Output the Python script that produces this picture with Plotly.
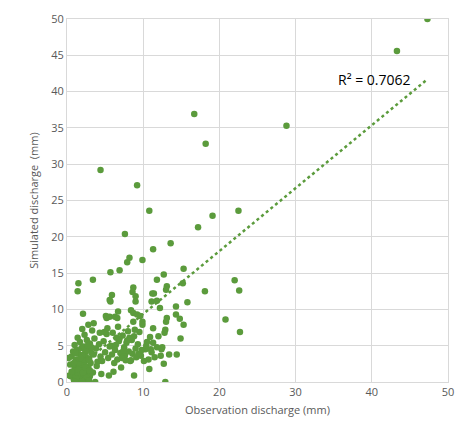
import plotly.graph_objects as go

obs = [47.3, 43.3, 28.8, 16.7, 18.2, 4.4, 9.2, 10.8, 22.5, 19.1, 17.2, 7.6, 13.6, 11.3,
       8.2, 7.9, 9.9, 15.3, 5.7, 6.9, 12.7, 3.4, 1.5, 1.4, 11.8, 22.0, 22.6, 18.1, 15.2,
       13.1, 13.0, 8.7, 8.6, 9.0, 11.4, 11.2, 5.9, 5.6, 5.7, 15.8, 11.1, 11.8, 9.0, 14.3,
       12.2, 8.4, 6.7, 2.1, 8.7, 9.2, 9.6, 14.3, 14.8, 13.1, 13.0, 20.8, 5.1, 5.2, 5.6,
       6.3, 6.6, 8.7, 9.9, 15.3, 11.3, 12.9, 12.8, 22.7, 14.9, 14.4, 13.4, 12.7, 12.9,
       10.8, 8.8, 3.7, 12.5, 12.4,
       # dense cluster
       0.2, 0.4, 0.5, 0.6, 0.7, 0.8, 0.9, 1.0, 1.0, 1.1, 1.2, 1.2, 1.3, 1.3, 1.4, 1.4,
       1.5, 1.5, 1.6, 1.6, 1.7, 1.7, 1.8, 1.8, 1.9, 1.9, 2.0, 2.0, 2.1, 2.1, 2.2, 2.2,
       2.3, 2.3, 2.4, 2.4, 2.5, 2.5, 2.6, 2.6, 2.7, 2.7, 2.8, 2.8, 2.9, 3.0, 3.0, 3.1,
       3.2, 3.3, 3.4, 3.5, 3.6, 3.8, 4.0, 4.2, 4.4, 1.0, 1.3, 1.6, 1.9, 2.2, 2.5, 2.8,
       1.1, 1.4, 1.7, 2.0, 2.3, 2.6, 2.9, 3.2, 0.9, 1.2, 1.5, 1.8, 2.1, 2.4, 2.7, 3.0,
       0.3, 0.6, 1.0, 3.5, 3.9, 4.3, 1.1, 2.0, 2.9,
       # mid cloud
       4.6, 4.8, 5.0, 5.2, 5.4, 5.5, 5.8, 6.0, 6.1, 6.3, 6.5, 6.6, 6.8, 7.0, 7.1, 7.3,
       7.5, 7.6, 7.8, 8.0, 8.1, 8.3, 8.5, 8.6, 8.8, 9.0, 9.1, 9.3, 9.5, 9.7, 9.9, 10.1,
       10.3, 10.5, 10.7, 10.9, 11.1, 11.3, 11.5, 11.8, 12.0, 12.3, 5.3, 5.9, 6.4, 6.9,
       7.4, 7.9, 8.4, 8.9, 9.4, 4.9, 5.6, 6.2, 7.2, 8.2, 9.8, 10.4, 11.0, 4.5, 6.7, 7.7]
sim = [50.0, 45.6, 35.3, 36.9, 32.8, 29.2, 27.1, 23.6, 23.6, 22.9, 21.3, 20.4, 19.1, 18.3,
       17.1, 16.5, 16.8, 15.6, 15.1, 15.4, 14.8, 14.1, 13.6, 12.5, 14.1, 14.0, 12.6, 12.5,
       13.6, 13.2, 12.7, 13.0, 12.4, 11.8, 12.2, 12.2, 12.0, 11.3, 11.1, 11.0, 11.1, 11.2,
       11.1, 10.4, 10.2, 9.9, 9.7, 9.4, 9.5, 9.3, 9.1, 9.3, 8.7, 8.8, 8.3, 8.6, 9.1, 8.8,
       9.0, 9.0, 8.8, 8.3, 8.3, 7.9, 7.4, 7.2, 6.8, 6.9, 6.0, 3.8, 3.8, 2.5, 0.0,
       1.8, 0.9, 0.0, 4.8, 4.5,
       # dense cluster
       3.3, 2.4, 0.8, 3.5, 1.2, 4.2, 0.3, 2.0, 5.1, 0.5, 3.1, 1.6, 4.4, 0.2, 2.7, 6.1,
       1.0, 3.9, 0.4, 2.2, 5.5, 1.4, 3.0, 0.6, 4.7, 2.5, 7.3, 0.9, 3.6, 1.8, 4.9, 0.3,
       2.9, 6.5, 1.1, 4.1, 0.7, 3.4, 5.8, 2.0, 0.4, 4.5, 7.9, 1.5, 3.2, 0.8, 5.3, 2.6,
       4.0, 7.1, 1.3, 3.8, 6.0, 4.6, 2.8, 5.2, 3.5, 1.5, 2.9, 2.4, 3.7, 1.1, 4.3, 2.1,
       4.0, 0.9, 1.9, 3.6, 2.3, 0.6, 3.0, 4.8, 2.6, 0.5, 1.7, 3.3, 1.3, 2.0, 5.0, 1.6,
       0.9, 1.4, 0.1, 8.1, 2.2, 6.8, 0.0, 0.1, 0.2,
       # mid cloud
       2.9, 5.6, 4.1, 6.6, 3.3, 0.9, 5.0, 6.8, 1.4, 4.4, 6.1, 3.1, 5.6, 4.0, 2.0, 6.4,
       4.8, 3.7, 5.4, 7.0, 4.2, 2.9, 5.8, 3.9, 6.3, 4.6, 3.4, 5.2, 6.9, 3.6, 7.9, 2.9,
       4.5, 5.5, 3.1, 6.2, 4.1, 5.4, 3.4, 4.8, 6.3, 3.6, 7.4, 3.8, 5.1, 6.0, 4.3, 5.7,
       3.0, 7.2, 3.9, 6.9, 4.9, 2.6, 3.3, 6.1, 4.4, 5.0, 4.5, 1.1, 7.6, 3.0]

# linear trend line end points and the R² label
trend_x = [0, 47.3]
trend_y = [0.7, 41.7]
r2_text = 'R² = 0.7062'

green = '#5b9b3c'

fig = go.Figure()
fig.add_trace(go.Scatter(x=trend_x, y=trend_y, mode='lines',
                         line=dict(color=green, width=2.5, dash='dot'), hoverinfo='skip'))
fig.add_trace(go.Scatter(x=obs, y=sim, mode='markers',
                         marker=dict(color=green, size=6.5)))

fig.add_annotation(x=40.3, y=41.6, text=r2_text, showarrow=False,
                   font=dict(size=14, color='#000000'))

axis_common = dict(range=[0, 50], showgrid=True, gridcolor='#d9d9d9', gridwidth=1,
                   zeroline=False, showline=True, linecolor='#d9d9d9', mirror=True,
                   ticks='', automargin=False, tickfont=dict(size=11, color='#595959'),
                   title_font=dict(size=11, color='#595959'))
fig.update_xaxes(axis_common, dtick=10, title_text='Observation discharge (mm)',
                 title_standoff=8)
fig.update_yaxes(axis_common, dtick=5, title_text='Simulated discharge  (mm)',
                 title_standoff=10)

# page body adds an 8px offset, so margins are trimmed to match the reference box
fig.update_layout(width=474, height=448, showlegend=False,
                  paper_bgcolor='white', plot_bgcolor='white',
                  font=dict(family='Open Sans, Liberation Sans, sans-serif'),
                  margin=dict(l=59, r=34, t=11, b=74))

fig.write_html("out.html")
